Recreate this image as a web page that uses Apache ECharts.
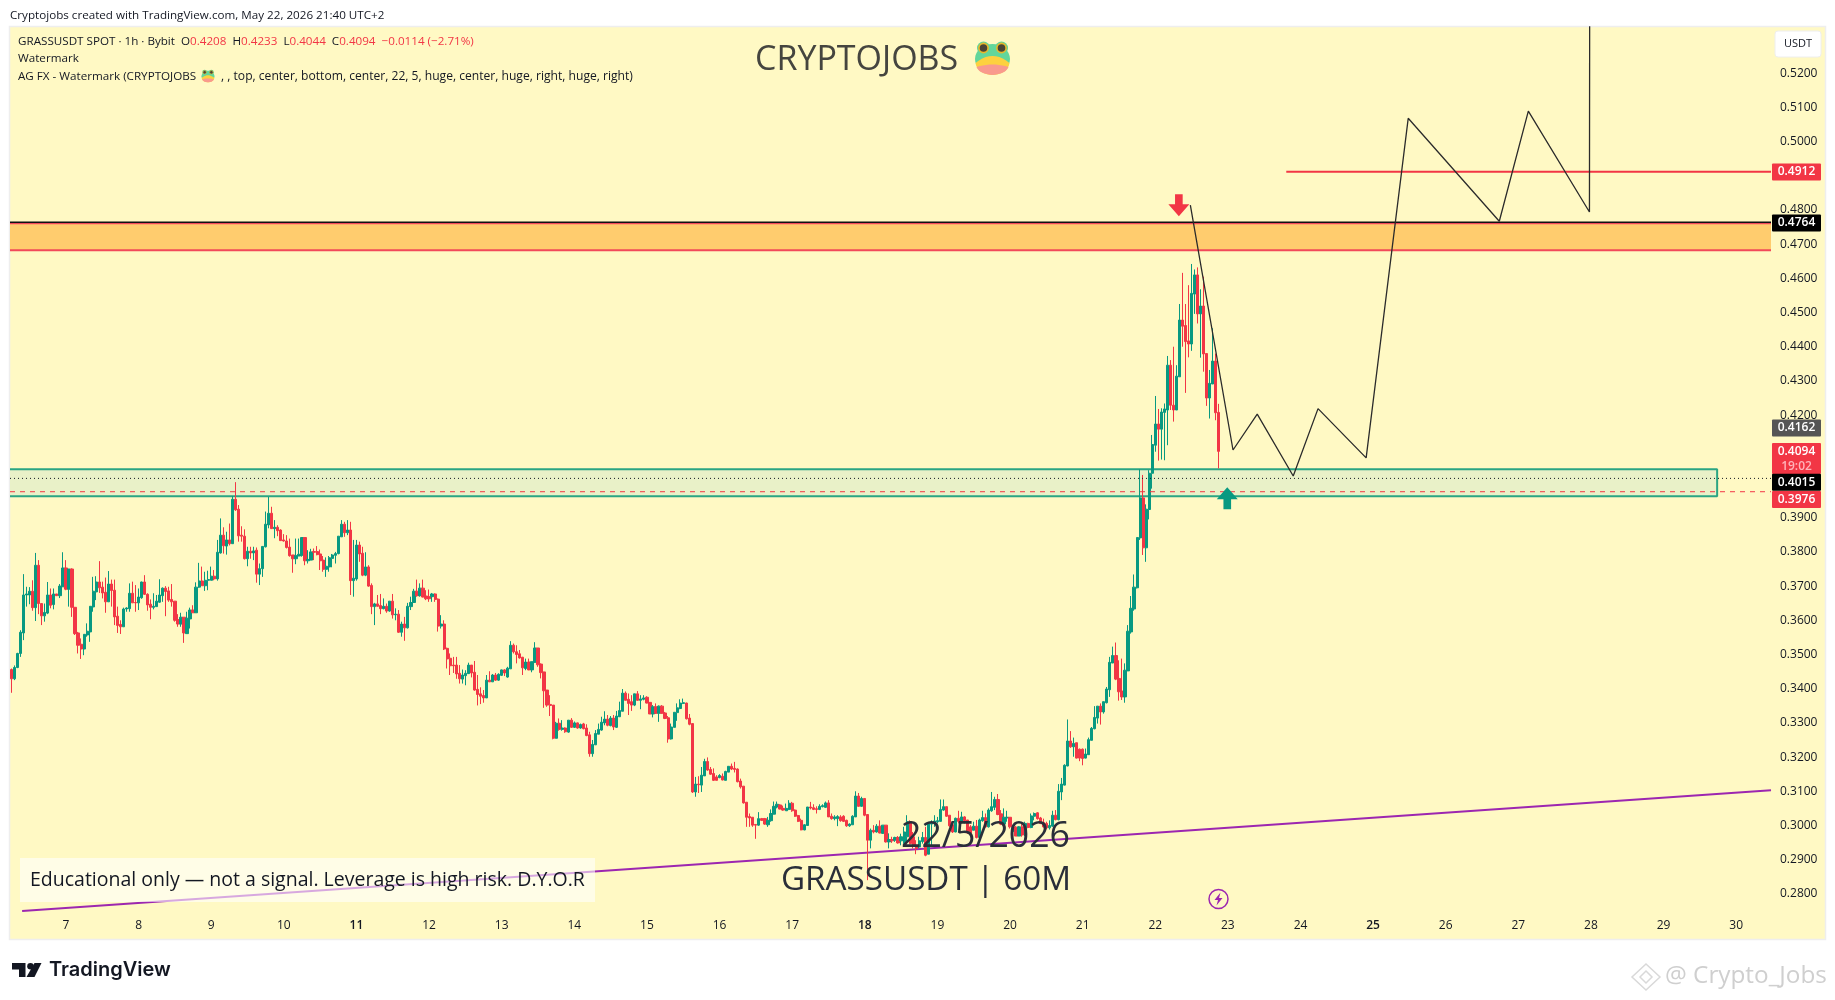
<!DOCTYPE html>
<html><head><meta charset="utf-8"><title>GRASSUSDT</title>
<style>html,body{margin:0;padding:0;background:#fff}#c{width:1835px;height:1000px}</style>
<script src="https://cdn.jsdelivr.net/npm/echarts@6/dist/echarts.min.js"></script></head>
<body><div id="c"></div>
<script>
// Hourly candles, [open, close, low, high], split by stretches of the chart
const candlesMay06=[[.3456,.3429,.3388,.3459],[.3429,.3462,.3425,.3468],[.3462,.3503,.3460,.3505],[.3503,.3565,.3493,.3571],[.3563,.3674,.3542,.3735],[.3674,.3677,.3640,.3698],[.3674,.3685,.3647,.3697],[.3685,.3637,.3628,.3717],[.3637,.3761,.3598,.3797],[.3761,.3649,.3618,.3776],[.3649,.3613,.3586,.3649],[.3613,.3623,.3596,.3649],[.3621,.3674,.3618,.3712],[.3674,.3644,.3635,.3693],[.3646,.3677,.3632,.3693],[.3677,.3672,.3671,.3677],[.3672,.3700,.3665,.3706],[.3698,.3753,.3698,.3799]];
const candlesMay07=[[.3753,.3691,.3688,.3776],[.3691,.3750,.3640,.3750],[.3750,.3638,.3610,.3752],[.3638,.3561,.3557,.3638],[.3563,.3527,.3503,.3566],[.3530,.3516,.3487,.3547],[.3516,.3559,.3498,.3559],[.3557,.3568,.3552,.3591],[.3566,.3641,.3537,.3641],[.3639,.3685,.3625,.3727],[.3683,.3712,.3659,.3729],[.3712,.3695,.3680,.3773],[.3697,.3680,.3664,.3713],[.3682,.3654,.3622,.3725],[.3654,.3706,.3654,.3744],[.3706,.3687,.3640,.3719],[.3688,.3610,.3586,.3719],[.3612,.3585,.3563,.3640],[.3588,.3581,.3560,.3600],[.3581,.3633,.3581,.3637],[.3633,.3636,.3625,.3638],[.3634,.3679,.3625,.3708],[.3679,.3651,.3651,.3713],[.3652,.3651,.3625,.3703]];
const candlesMay08=[[.3651,.3668,.3630,.3693],[.3666,.3712,.3663,.3713],[.3712,.3676,.3674,.3732],[.3676,.3645,.3628,.3679],[.3647,.3638,.3603,.3661],[.3638,.3641,.3632,.3679],[.3640,.3656,.3640,.3674],[.3653,.3674,.3651,.3720],[.3672,.3694,.3654,.3696],[.3694,.3684,.3612,.3700],[.3686,.3659,.3654,.3698],[.3661,.3654,.3640,.3706],[.3656,.3600,.3596,.3656],[.3602,.3589,.3581,.3618],[.3589,.3609,.3581,.3622],[.3609,.3563,.3534,.3609],[.3561,.3606,.3560,.3625],[.3604,.3630,.3576,.3637],[.3630,.3622,.3622,.3644],[.3622,.3697,.3622,.3711],[.3697,.3715,.3695,.3768],[.3715,.3701,.3701,.3757],[.3701,.3717,.3686,.3742],[.3717,.3719,.3688,.3745]];
const candlesMay09=[[.3717,.3729,.3717,.3757],[.3729,.3721,.3717,.3747],[.3721,.3799,.3716,.3835],[.3797,.3849,.3795,.3898],[.3849,.3818,.3795,.3872],[.3817,.3835,.3792,.3859],[.3835,.3824,.3819,.3883],[.3824,.3954,.3824,.3963],[.3954,.3923,.3920,.4004],[.3925,.3847,.3830,.3937],[.3849,.3846,.3830,.3875],[.3846,.3780,.3778,.3866],[.3780,.3802,.3758,.3815],[.3802,.3797,.3780,.3815],[.3797,.3803,.3776,.3815],[.3805,.3735,.3710,.3813],[.3735,.3751,.3703,.3766],[.3751,.3816,.3727,.3816],[.3815,.3881,.3813,.3918],[.3879,.3913,.3869,.3961],[.3913,.3868,.3868,.3932],[.3868,.3872,.3840,.3893],[.3872,.3862,.3846,.3878],[.3864,.3833,.3832,.3866]];
const candlesMay10=[[.3835,.3832,.3830,.3852],[.3832,.3813,.3810,.3849],[.3814,.3789,.3786,.3839],[.3791,.3780,.3739,.3791],[.3780,.3789,.3764,.3839],[.3788,.3793,.3788,.3839],[.3790,.3842,.3786,.3842],[.3842,.3774,.3761,.3842],[.3774,.3778,.3766,.3805],[.3776,.3800,.3776,.3809],[.3801,.3799,.3776,.3810],[.3801,.3792,.3790,.3817],[.3794,.3774,.3747,.3807],[.3776,.3749,.3742,.3788],[.3749,.3758,.3727,.3784],[.3756,.3783,.3742,.3788],[.3781,.3791,.3755,.3794],[.3790,.3795,.3766,.3800],[.3795,.3846,.3793,.3846],[.3844,.3881,.3844,.3893],[.3881,.3856,.3844,.3888],[.3856,.3864,.3849,.3893],[.3864,.3716,.3674,.3888],[.3716,.3723,.3669,.3835]];
const candlesMay11=[[.3721,.3820,.3716,.3835],[.3820,.3794,.3771,.3830],[.3796,.3732,.3729,.3815],[.3732,.3756,.3729,.3799],[.3756,.3700,.3698,.3761],[.3702,.3640,.3618,.3708],[.3640,.3648,.3586,.3651],[.3648,.3641,.3640,.3674],[.3643,.3634,.3618,.3677],[.3634,.3641,.3632,.3664],[.3641,.3627,.3622,.3649],[.3627,.3656,.3625,.3656],[.3656,.3616,.3605,.3677],[.3616,.3618,.3600,.3635],[.3618,.3565,.3563,.3630],[.3565,.3589,.3552,.3596],[.3589,.3578,.3540,.3610],[.3578,.3641,.3576,.3651],[.3640,.3652,.3630,.3669],[.3652,.3685,.3651,.3692],[.3685,.3672,.3669,.3719],[.3672,.3694,.3669,.3708],[.3694,.3668,.3667,.3719],[.3671,.3663,.3659,.3688]];
const candlesMay12=[[.3669,.3663,.3654,.3690],[.3669,.3677,.3654,.3680],[.3677,.3661,.3654,.3679],[.3662,.3583,.3567,.3664],[.3583,.3589,.3576,.3615],[.3589,.3516,.3513,.3600],[.3518,.3487,.3459,.3520],[.3489,.3467,.3440,.3503],[.3469,.3467,.3446,.3493],[.3469,.3443,.3429,.3493],[.3445,.3429,.3415,.3469],[.3428,.3440,.3415,.3456],[.3438,.3445,.3410,.3454],[.3444,.3469,.3443,.3476],[.3469,.3446,.3433,.3469],[.3448,.3396,.3394,.3481],[.3398,.3383,.3351,.3440],[.3385,.3378,.3355,.3404],[.3380,.3373,.3359,.3396],[.3373,.3425,.3373,.3440],[.3425,.3420,.3420,.3451],[.3420,.3440,.3420,.3443],[.3440,.3425,.3423,.3446],[.3425,.3442,.3423,.3445]];
const candlesMay13=[[.3439,.3455,.3437,.3456],[.3455,.3446,.3437,.3457],[.3434,.3460,.3432,.3464],[.3458,.3527,.3458,.3539],[.3527,.3508,.3503,.3532],[.3508,.3500,.3474,.3527],[.3502,.3490,.3488,.3513],[.3492,.3461,.3440,.3493],[.3459,.3478,.3454,.3488],[.3478,.3455,.3454,.3488],[.3455,.3479,.3448,.3479],[.3477,.3519,.3475,.3536],[.3519,.3470,.3464,.3519],[.3472,.3447,.3430,.3474],[.3449,.3394,.3344,.3449],[.3396,.3352,.3347,.3396],[.3354,.3351,.3320,.3381],[.3352,.3255,.3252,.3352],[.3255,.3299,.3254,.3303],[.3299,.3281,.3277,.3313],[.3281,.3285,.3277,.3308],[.3285,.3274,.3271,.3287],[.3273,.3308,.3271,.3308],[.3308,.3287,.3285,.3314]];
const candlesMay14=[[.3287,.3300,.3285,.3304],[.3300,.3285,.3283,.3301],[.3285,.3295,.3283,.3298],[.3297,.3283,.3281,.3300],[.3285,.3263,.3261,.3296],[.3265,.3210,.3201,.3274],[.3210,.3237,.3201,.3250],[.3236,.3269,.3235,.3279],[.3267,.3281,.3267,.3298],[.3279,.3302,.3277,.3318],[.3300,.3311,.3293,.3334],[.3311,.3293,.3290,.3323],[.3292,.3314,.3290,.3320],[.3314,.3288,.3279,.3323],[.3287,.3320,.3285,.3335],[.3318,.3336,.3317,.3362],[.3334,.3387,.3334,.3399],[.3387,.3366,.3366,.3392],[.3369,.3357,.3323,.3386],[.3362,.3352,.3335,.3381],[.3352,.3385,.3349,.3385],[.3385,.3366,.3365,.3393],[.3366,.3370,.3340,.3381],[.3369,.3373,.3366,.3381]];
const candlesMay15=[[.3375,.3358,.3357,.3378],[.3360,.3326,.3326,.3360],[.3326,.3347,.3316,.3352],[.3347,.3328,.3326,.3357],[.3328,.3349,.3303,.3351],[.3349,.3328,.3326,.3352],[.3329,.3313,.3311,.3332],[.3315,.3253,.3242,.3320],[.3253,.3288,.3251,.3298],[.3287,.3331,.3287,.3331],[.3330,.3344,.3306,.3357],[.3342,.3358,.3340,.3369],[.3357,.3359,.3355,.3371],[.3358,.3312,.3310,.3359],[.3314,.3296,.3293,.3326],[.3298,.3098,.3095,.3298],[.3098,.3121,.3084,.3142],[.3121,.3119,.3095,.3144],[.3118,.3147,.3098,.3171],[.3145,.3187,.3145,.3195],[.3187,.3162,.3160,.3199],[.3164,.3150,.3148,.3171],[.3152,.3132,.3130,.3167],[.3142,.3132,.3132,.3147]];
const candlesMay16=[[.3140,.3146,.3138,.3150],[.3144,.3133,.3132,.3152],[.3132,.3158,.3132,.3160],[.3156,.3173,.3156,.3173],[.3173,.3165,.3162,.3181],[.3167,.3164,.3155,.3186],[.3165,.3128,.3126,.3167],[.3130,.3113,.3108,.3137],[.3115,.3066,.3064,.3115],[.3068,.3024,.2996,.3068],[.3026,.3022,.2996,.3035],[.3024,.3001,.2996,.3024],[.3003,.3001,.2961,.3003],[.3001,.3020,.2999,.3039],[.3020,.3015,.3013,.3022],[.3020,.3004,.3002,.3022],[.3002,.3015,.2996,.3025],[.3014,.3035,.3011,.3047],[.3033,.3056,.3033,.3070],[.3054,.3062,.3050,.3070],[.3060,.3048,.3047,.3062],[.3050,.3045,.3043,.3058],[.3043,.3050,.3043,.3064],[.3047,.3065,.3045,.3074]];
const candlesMay17=[[.3065,.3043,.3040,.3069],[.3045,.3027,.3025,.3047],[.3029,.3012,.3010,.3031],[.3015,.2987,.2986,.3020],[.2987,.3002,.2986,.3004],[.3000,.3054,.3000,.3054],[.3054,.3051,.3047,.3069],[.3052,.3047,.3045,.3062],[.3049,.3047,.3035,.3056],[.3047,.3056,.3045,.3062],[.3055,.3058,.3053,.3062],[.3053,.3066,.3051,.3070],[.3066,.3025,.3025,.3074],[.3027,.3020,.3017,.3035],[.3020,.3025,.3015,.3030],[.3020,.3026,.2998,.3030],[.3025,.3014,.3011,.3030],[.3027,.3012,.3010,.3030],[.3015,.2999,.2996,.3017],[.2999,.3004,.2996,.3006],[.3002,.3027,.3002,.3030],[.3025,.3086,.3025,.3100],[.3086,.3056,.3055,.3095],[.3056,.3079,.3055,.3084]];
const candlesMay18=[[.3079,.3030,.3027,.3079],[.3032,.2957,.2840,.3032],[.2957,.2986,.2933,.2991],[.2986,.2981,.2977,.3001],[.2981,.2998,.2979,.3004],[.2998,.2978,.2977,.3015],[.2977,.3001,.2975,.3001],[.3001,.2952,.2950,.3001],[.2952,.2959,.2933,.2977],[.2959,.2955,.2949,.2967],[.2957,.2965,.2952,.2967],[.2965,.2949,.2947,.2969],[.2955,.2967,.2942,.2976],[.2947,.2981,.2945,.2996],[.2967,.3011,.2947,.3030],[.3011,.2947,.2945,.3015],[.2967,.2942,.2933,.2981],[.2942,.2933,.2916,.2957],[.2937,.2955,.2933,.2967],[.2953,.2965,.2947,.2981],[.2965,.2913,.2910,.2996],[.2916,.3006,.2916,.3006],[.3004,.3008,.2937,.3015],[.3006,.3013,.2996,.3030]];
const candlesMay19=[[.3011,.3014,.3006,.3025],[.3012,.3047,.3011,.3076],[.3045,.3055,.3043,.3076],[.3055,.3027,.3025,.3055],[.3030,.2999,.2996,.3030],[.3002,.2981,.2978,.3011],[.2981,.3021,.2980,.3023],[.3021,.3012,.3006,.3043],[.3012,.3025,.3006,.3040],[.3025,.3014,.3006,.3027],[.3016,.2978,.2976,.3016],[.2996,.2977,.2975,.3001],[.2986,.2998,.2986,.3011],[.2998,.2965,.2962,.3016],[.2965,.3016,.2962,.3020],[.3014,.3023,.3011,.3043],[.3023,.2996,.2994,.3035],[.2996,.3045,.2994,.3050],[.3043,.3055,.3040,.3098],[.3053,.3076,.3045,.3084],[.3076,.3032,.3030,.3092],[.3034,.3004,.3001,.3045],[.3004,.3024,.3001,.3050],[.3022,.3024,.3011,.3043]];
const candlesMay20=[[.3024,.2996,.2991,.3024],[.2983,.2993,.2980,.3001],[.2995,.2969,.2969,.2998],[.2969,.2996,.2969,.2998],[.2996,.2972,.2967,.3004],[.2972,.3006,.2969,.3011],[.3006,.2994,.2992,.3008],[.2994,.3028,.2992,.3035],[.3027,.3035,.3015,.3038],[.3037,.3020,.3017,.3039],[.3022,.3006,.3004,.3025],[.3008,.2996,.2994,.3020],[.3006,.2993,.2989,.3011],[.2993,.3000,.2988,.3015],[.2998,.3030,.2996,.3043],[.3030,.3017,.3015,.3045],[.3017,.3100,.3015,.3121],[.3098,.3121,.3074,.3139],[.3118,.3176,.3117,.3179],[.3174,.3247,.3173,.3310],[.3247,.3230,.3227,.3276],[.3230,.3240,.3201,.3257],[.3242,.3197,.3196,.3242],[.3223,.3197,.3188,.3225]];
const candlesMay21=[[.3223,.3196,.3176,.3225],[.3197,.3209,.3196,.3225],[.3207,.3251,.3206,.3257],[.3249,.3284,.3249,.3288],[.3283,.3316,.3281,.3349],[.3314,.3349,.3298,.3349],[.3349,.3332,.3295,.3357],[.3332,.3362,.3327,.3362],[.3359,.3399,.3357,.3405],[.3397,.3477,.3376,.3493],[.3475,.3497,.3475,.3523],[.3497,.3428,.3425,.3535],[.3430,.3391,.3365,.3483],[.3393,.3376,.3367,.3488],[.3376,.3454,.3359,.3474],[.3452,.3568,.3452,.3586],[.3566,.3635,.3561,.3671],[.3633,.3697,.3628,.3734],[.3695,.3842,.3693,.3842],[.3841,.3958,.3835,.4041],[.3958,.3812,.3791,.4025],[.3812,.3925,.3771,.3939],[.3924,.4030,.3895,.4039],[.4030,.4114,.3985,.4142]];
const candlesMay22=[[.4112,.4174,.4093,.4256],[.4174,.4159,.4067,.4218],[.4159,.4209,.4070,.4220],[.4208,.4218,.4068,.4234],[.4215,.4346,.4112,.4373],[.4346,.4229,.4215,.4361],[.4229,.4215,.4181,.4400],[.4215,.4314,.4215,.4346],[.4312,.4478,.4312,.4525],[.4478,.4460,.4400,.4616],[.4462,.4415,.4265,.4525],[.4417,.4408,.4369,.4580],[.4408,.4556,.4388,.4642],[.4554,.4610,.4496,.4626],[.4610,.4496,.4468,.4632],[.4496,.4519,.4368,.4568],[.4519,.4379,.4327,.4605],[.4380,.4250,.4227,.4380],[.4250,.4293,.4190,.4332],[.4291,.4358,.4291,.4454],[.4358,.4207,.4185,.4380],[.4208,.4094,.4044,.4233]];

const dayTicks=[7,8,9,10,11,12,13,14,15,16,17,18,19,20,21,22,23,24,25,26,27,28,29,30];
const boldDays=[11,18,25];
const priceTicks=[.28,.29,.30,.31,.32,.33,.34,.35,.36,.37,.38,.39,.40,.41,.42,.43,.44,.45,.46,.47,.48,.49,.50,.51,.52];

// Drawn levels and shapes, as [hour index, price]
const projection=[[389.6,.4814],[403.7,.4098],[411.7,.4203],[423.6,.4022],[431.8,.4219],[447.7,.4075],[461.6,.5068],[491.7,.4767],[501.3,.5089],[521.5,.4794],[521.6,.5600]];
const trendLine=[[3.5,.2750],[581.5,.3103]];
const targetLevel=.4912, targetFrom=421.3;
const resistanceTop=.4764, resistanceBottom=.4682;
const supportTop=.4042, supportBottom=.3963, supportEnd=563.7;
const dottedLevel=.4015, dashedLevel=.3976;
const arrowDownAt=[385.8,.4814], arrowUpAt=[401.8,.3957];

const allCandles=[].concat(candlesMay06,candlesMay07,candlesMay08,candlesMay09,candlesMay10,candlesMay11,candlesMay12,candlesMay13,candlesMay14,candlesMay15,candlesMay16,candlesMay17,candlesMay18,candlesMay19,candlesMay20,candlesMay21,candlesMay22);
const SLOTS=582, lastSlot=SLOTS-.5;
const cats=new Array(SLOTS).fill('');
dayTicks.forEach(d=>{cats[18+24*(d-7)]=String(d)});

const FONT='"Open Sans"';
const UP='#089981',DOWN='#f23645',INK='#131722';
function hline(y,from,to,color,width,type,z){return {type:'line',xAxisIndex:1,yAxisIndex:0,data:[[from,y],[to,y]],symbol:'none',silent:true,animation:false,z:z||3,lineStyle:{color,width,type:type||'solid'}}}
function text(x,y,t,size,color,extra){return {type:'text',z:60,silent:true,style:Object.assign({x,y,text:t,font:`${size}px ${FONT}`,fill:color,textVerticalAlign:'middle',verticalAlign:'middle',align:'left'},extra||{})}}
function tag(y,h,label,bg,sub){
  const els=[{type:'rect',z:50,silent:true,shape:{x:1772,y:y-h/2,width:49,height:h,r:1},style:{fill:bg}}];
  if(sub){els.push(text(1796.5,y-7,label,12,'#fff',{align:'center',font:`600 12px ${FONT}`}));els.push(text(1796.5,y+8,sub,12,'#ffb3ba',{align:'center',font:`600 12px ${FONT}`}));}
  else els.push(text(1796.5,y,label,12,'#fff',{align:'center',font:`600 12px ${FONT}`}));
  return els;
}
function arcPts(x0,y0,qx,qy,x1,y1){const p=[];for(let t=0;t<=1.001;t+=.1){const u=1-t;p.push([u*u*x0+2*u*t*qx+t*t*x1,u*u*y0+2*u*t*qy+t*t*y1]);}return p}
function frog(cx,cy,s){ // s = half width
  const k=s/17.5, E=(o)=>Object.assign({z:61,silent:true},o);
  const yellow=arcPts(cx-17*k,cy+5*k,cx,cy-9*k,cx+17*k,cy+5*k).concat(arcPts(cx+17*k,cy+5*k,cx+15*k,cy+16*k,cx,cy+17*k),arcPts(cx,cy+17*k,cx-15*k,cy+16*k,cx-17*k,cy+5*k));
  const pink=arcPts(cx-16*k,cy+9*k,cx,cy+4*k,cx+16*k,cy+9*k).concat(arcPts(cx+16*k,cy+9*k,cx+13*k,cy+16*k,cx,cy+17*k),arcPts(cx,cy+17*k,cx-13*k,cy+16*k,cx-16*k,cy+9*k));
  return [
   E({type:'circle',shape:{cx:cx-9*k,cy:cy-10*k,r:6.5*k},style:{fill:'#5fd39a'}}),
   E({type:'circle',shape:{cx:cx+9*k,cy:cy-10*k,r:6.5*k},style:{fill:'#5fd39a'}}),
   E({type:'ellipse',shape:{cx:cx,cy:cy+1*k,rx:17.5*k,ry:15*k},style:{fill:'#62d69b'}}),
   E({type:'polygon',shape:{points:yellow},style:{fill:'#fdd13f'}}),
   E({type:'polygon',shape:{points:pink},style:{fill:'#f99a8d'}}),
   E({type:'circle',shape:{cx:cx-9*k,cy:cy-10*k,r:4.6*k},style:{fill:'#4a4436',stroke:'#e8b92a',lineWidth:1.6*k}}),
   E({type:'circle',shape:{cx:cx+9*k,cy:cy-10*k,r:4.6*k},style:{fill:'#4a4436',stroke:'#e8b92a',lineWidth:1.6*k}})
  ];
}
const graphics=[
 {type:'rect',z:-10,silent:true,shape:{x:9.5,y:26.5,width:1816,height:913},style:{fill:'#fff9c4',stroke:'#eeeeee',lineWidth:1.5}},
 text(10,15.5,'Cryptojobs created with TradingView.com, May 22, 2026 21:40 UTC+2',11.65,'#131722'),
 text(18,42,'GRASSUSDT SPOT · 1h · Bybit  O{r|0.4208}  H{r|0.4233}  L{r|0.4044}  C{r|0.4094}  {r|−0.0114 (−2.71%)}',11.65,'#131722',{rich:{r:{fill:'#f23645',font:`11.65px ${FONT}`}}}),
 text(18,59,'Watermark',11.65,'#131722'),
 text(18,76.5,'AG FX - Watermark (CRYPTOJOBS',11.65,'#131722'),
 text(221,76.5,', , top, center, bottom, center, 22, 5, huge, center, huge, right, huge, right)',12.1,'#131722'),
 text(755,60,'CRYPTOJOBS',34,'#45453f'),
 ...frog(992.5,58,17.5),
 ...frog(208,76,6.5),
 text(1070,836.5,'22/5/2026',35.7,'#2a2e39',{align:'right'}),
 text(1071,880.5,'GRASSUSDT | 60M',33.2,'#2a2e39',{align:'right'}),
 {type:'rect',z:55,silent:true,shape:{x:20,y:858,width:575,height:44},style:{fill:'rgba(255,255,255,0.6)'}},
 text(30,880.5,'Educational only — not a signal. Leverage is high risk. D.Y.O.R',19.5,'#131722'),
 {type:'rect',z:50,silent:true,shape:{x:1775,y:31,width:46,height:26,r:3},style:{fill:'#ffffff',stroke:'#eeeeee',lineWidth:1}},
 text(1798,44,'USDT',11,'#131722',{align:'center'}),
 ...tag(172,17,'0.4912',DOWN),
 ...tag(223,17,'0.4764','#000000'),
 ...tag(428,17,'0.4162','#555555'),
 ...tag(458.5,31,'0.4094',DOWN,'19:02'),
 ...tag(499.5,17,'0.3976',DOWN),
 ...tag(482.3,17,'0.4015','#000000'),
 {type:'circle',z:60,silent:true,shape:{cx:1218.5,cy:899,r:9.5},style:{fill:'none',stroke:'#9c27b0',lineWidth:1.5}},
 {type:'polygon',z:60,silent:true,shape:{points:[[1220.5,892.5],[1214.5,900],[1218,900],[1216.5,905.5],[1222.5,898],[1219,898]]},style:{fill:'#9c27b0'}},
 // TradingView mark
 {type:'polygon',z:60,silent:true,shape:{points:[[12,963],[25.5,963],[25.5,977],[19,977],[19,969.5],[12,969.5]]},style:{fill:'#131722'}},
 {type:'circle',z:60,silent:true,shape:{cx:30.5,cy:966.3,r:3.3},style:{fill:'#131722'}},
 {type:'polygon',z:60,silent:true,shape:{points:[[34.5,963],[41.5,963],[34.5,977],[26.5,977]]},style:{fill:'#131722'}},
 text(49,970,'TradingView',20,'#131722',{font:`600 20px Inter`}),
 // lower-right credit
 {type:'polygon',z:60,silent:true,shape:{points:[[1646,964],[1660,977],[1646,990],[1632,977]]},style:{fill:'none',stroke:'#d9d9d9',lineWidth:1.5}},
 {type:'polygon',z:60,silent:true,shape:{points:[[1646,971],[1652,977],[1646,983],[1640,977]]},style:{fill:'none',stroke:'#d9d9d9',lineWidth:1.5}},
 text(1665,976,'@ Crypto_Jobs',24.3,'#cfcfcf')
];

const chart=echarts.init(document.getElementById('c'),null,{renderer:'canvas'});
chart.setOption({
 animation:false,
 backgroundColor:'#ffffff',
 grid:{left:10,top:27,width:1761,height:912,containLabel:false},
 graphic:{elements:graphics},
 xAxis:[
  {type:'category',data:cats,boundaryGap:true,axisLine:{show:false},axisTick:{show:false},splitLine:{show:false},
   axisLabel:{show:true,inside:true,margin:7,interval:0,color:INK,fontFamily:FONT,fontSize:12,
    formatter:v=>v===''?'':(boldDays.includes(+v)?`{b|${v}}`:v),rich:{b:{fontWeight:600,fontFamily:FONT,fontSize:12,color:INK}}}},
  {type:'value',show:false,min:-.5,max:lastSlot,splitLine:{show:false}}
 ],
 yAxis:[{type:'value',position:'right',min:.2668,max:.5335,scale:true,axisLine:{show:false},axisTick:{show:false},splitLine:{show:false},
  axisLabel:{customValues:priceTicks,margin:9,color:INK,fontFamily:FONT,fontSize:12,formatter:v=>v.toFixed(4)}}],
 series:[
  {type:'line',xAxisIndex:1,data:[[-.5,resistanceTop],[lastSlot,resistanceTop]],symbol:'none',silent:true,z:1,lineStyle:{width:0},
   markArea:{silent:true,itemStyle:{color:'#ffcc6e'},data:[[{coord:[-.5,resistanceTop]},{coord:[lastSlot,resistanceBottom]}]]}},
  {type:'line',xAxisIndex:1,data:[[-.5,supportTop],[supportEnd,supportTop],[supportEnd,supportBottom],[-.5,supportBottom]],symbol:'none',silent:true,z:1,
   lineStyle:{color:'#2aa583',width:2},
   markArea:{silent:true,itemStyle:{color:'#e9f1c8'},data:[[{coord:[-.5,supportTop]},{coord:[supportEnd,supportBottom]}]]}},
  hline(resistanceTop-.0003,-.5,lastSlot,'#f2495a',2,'solid',1),
  hline(resistanceBottom,-.5,lastSlot,'#f2495a',2,'solid',1),
  hline(resistanceTop,-.5,lastSlot,'#111111',1.5,'solid',1),
  hline(targetLevel,targetFrom,lastSlot,'#f23645',2),
  hline(dottedLevel,-.5,lastSlot,'#131722',1,[1,3]),
  hline(dashedLevel,-.5,lastSlot,'#f23645',1,[5,5]),
  {type:'line',xAxisIndex:1,data:trendLine,symbol:'none',silent:true,z:1,lineStyle:{color:'#9c27b0',width:2}},
  {type:'candlestick',xAxisIndex:0,yAxisIndex:0,data:allCandles,barWidth:2.7,z:2,silent:true,
   itemStyle:{color:UP,color0:DOWN,borderColor:UP,borderColor0:DOWN,borderWidth:1}},
  {type:'line',xAxisIndex:1,data:projection,symbol:'none',silent:true,z:4,lineStyle:{color:'#2b2b2b',width:1.3}},
  {type:'scatter',xAxisIndex:1,data:[arrowDownAt],symbol:'path://M7,0 L15,0 L15,11 L22,11 L11,24 L0,11 L7,11 Z',symbolSize:[21,22],silent:true,z:5,itemStyle:{color:DOWN,opacity:1}},
  {type:'scatter',xAxisIndex:1,data:[arrowUpAt],symbol:'path://M11,0 L22,13 L15,13 L15,24 L7,24 L7,13 L0,13 Z',symbolSize:[21,22],silent:true,z:5,itemStyle:{color:UP,opacity:1}}
 ]
});
</script></body></html>
